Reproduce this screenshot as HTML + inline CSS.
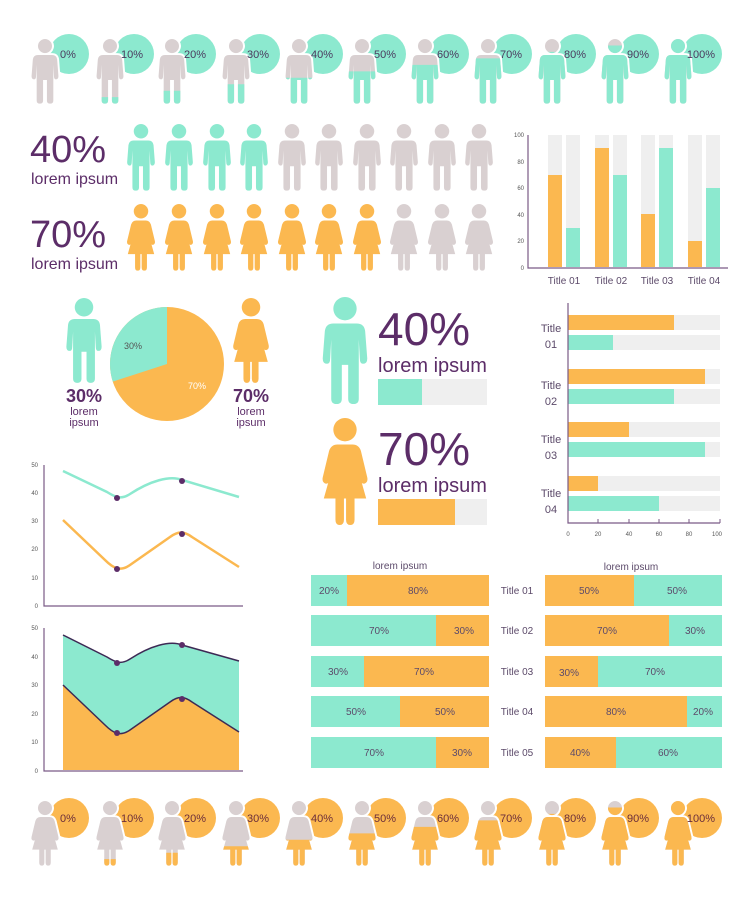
<!DOCTYPE html>
<html><head><meta charset="utf-8">
<style>
html,body{margin:0;padding:0;background:#fff;}
svg{display:block;}
text{font-family:"Liberation Sans",sans-serif;}
</style></head>
<body>
<svg id="s" width="754" height="900" viewBox="0 0 754 900" xmlns="http://www.w3.org/2000/svg">
<defs>
<path id="male" d="M9 25 H31 Q38 25 39 32 L41 58 Q41 63 37 63 Q34 63 34 58 L33 40 V96 Q33 101 28 101 Q23 101 23 96 V64 H17 V96 Q17 101 12 101 Q7 101 7 96 V40 L6 58 Q6 63 3 63 Q-1 63 -1 58 L1 32 Q2 25 9 25Z M20 0 A11 11 0 1 1 19.99 0Z"/>
<path id="female" d="M13 25 H27 Q33 25 35 31 L41 56 Q42 61 38 62 Q35 62 34 58 L31 44 L40 76 H29 V96 Q29 101 25 101 Q21 101 21 96 V76 H19 V96 Q19 101 15 101 Q11 101 11 96 V76 H0 L9 44 L6 58 Q5 62 2 62 Q-2 61 -1 56 L5 31 Q7 25 13 25Z M20 0 A11 11 0 1 1 19.99 0Z"/>
</defs>
<g id="figs"></g>

<g font-size="11" fill="#4a3a5e" text-anchor="middle">
<text x="68" y="58">0%</text><text x="132" y="58">10%</text><text x="195" y="58">20%</text><text x="258" y="58">30%</text><text x="322" y="58">40%</text><text x="385" y="58">50%</text><text x="448" y="58">60%</text><text x="511" y="58">70%</text><text x="575" y="58">80%</text><text x="638" y="58">90%</text><text x="701" y="58">100%</text>
</g>
<g font-size="11" fill="#6b2d3a" text-anchor="middle">
<text x="68" y="822">0%</text><text x="132" y="822">10%</text><text x="195" y="822">20%</text><text x="258" y="822">30%</text><text x="322" y="822">40%</text><text x="385" y="822">50%</text><text x="448" y="822">60%</text><text x="511" y="822">70%</text><text x="575" y="822">80%</text><text x="638" y="822">90%</text><text x="701" y="822">100%</text>
</g>

<g fill="#5c2d68">
<text x="30" y="162" font-size="38">40%</text>
<text x="31" y="184" font-size="16">lorem ipsum</text>
<text x="30" y="247" font-size="38">70%</text>
<text x="31" y="269" font-size="16">lorem ipsum</text>
</g>

<g>
<g fill="#efefef">
<rect x="548" y="135" width="14" height="132"/><rect x="566" y="135" width="14" height="132"/>
<rect x="595" y="135" width="14" height="132"/><rect x="613" y="135" width="14" height="132"/>
<rect x="641" y="135" width="14" height="132"/><rect x="659" y="135" width="14" height="132"/>
<rect x="688" y="135" width="14" height="132"/><rect x="706" y="135" width="14" height="132"/>
</g>
<rect x="548" y="175" width="14" height="92" fill="#fbb850"/>
<rect x="566" y="228" width="14" height="39" fill="#8ce9cf"/>
<rect x="595" y="148" width="14" height="119" fill="#fbb850"/>
<rect x="613" y="175" width="14" height="92" fill="#8ce9cf"/>
<rect x="641" y="214" width="14" height="53" fill="#fbb850"/>
<rect x="659" y="148" width="14" height="119" fill="#8ce9cf"/>
<rect x="688" y="241" width="14" height="26" fill="#fbb850"/>
<rect x="706" y="188" width="14" height="79" fill="#8ce9cf"/>
<path d="M528 135 V268 H728" stroke="#7a5a86" stroke-width="1.2" fill="none"/>
<g font-size="6" fill="#555" text-anchor="end">
<text x="524" y="137">100</text><text x="524" y="164">80</text><text x="524" y="190">60</text><text x="524" y="217">40</text><text x="524" y="243">20</text><text x="524" y="270">0</text>
</g>
<g font-size="10" fill="#5c4a6a" text-anchor="middle">
<text x="564" y="284">Title 01</text><text x="611" y="284">Title 02</text><text x="657" y="284">Title 03</text><text x="704" y="284">Title 04</text>
</g>
</g>

<circle cx="167" cy="364" r="57" fill="#fbb850"/>
<path d="M167 364 V307 A57 57 0 0 0 112.8 381.6 Z" fill="#8ce9cf"/>
<text x="133" y="349" font-size="9" fill="#555" text-anchor="middle">30%</text>
<text x="197" y="389" font-size="9" fill="#fff" text-anchor="middle">70%</text>
<g fill="#5c2d68" text-anchor="middle">
<text x="84" y="402" font-size="18" font-weight="bold">30%</text>
<text x="84" y="415" font-size="11">lorem</text><text x="84" y="426" font-size="11">ipsum</text>
<text x="251" y="402" font-size="18" font-weight="bold">70%</text>
<text x="251" y="415" font-size="11">lorem</text><text x="251" y="426" font-size="11">ipsum</text>
</g>

<g fill="#5c2d68">
<text x="378" y="345" font-size="46">40%</text>
<text x="378" y="372" font-size="20">lorem ipsum</text>
<text x="378" y="465" font-size="46">70%</text>
<text x="378" y="492" font-size="20">lorem ipsum</text>
</g>
<rect x="378" y="379" width="109" height="26" fill="#efefef"/><rect x="378" y="379" width="44" height="26" fill="#8ce9cf"/>
<rect x="378" y="499" width="109" height="26" fill="#efefef"/><rect x="378" y="499" width="77" height="26" fill="#fbb850"/>

<g>
<g fill="#efefef">
<rect x="568" y="315" width="152" height="15"/><rect x="568" y="335" width="152" height="15"/>
<rect x="568" y="369" width="152" height="15"/><rect x="568" y="389" width="152" height="15"/>
<rect x="568" y="422" width="152" height="15"/><rect x="568" y="442" width="152" height="15"/>
<rect x="568" y="476" width="152" height="15"/><rect x="568" y="496" width="152" height="15"/>
</g>
<rect x="568" y="315" width="106" height="15" fill="#fbb850"/>
<rect x="568" y="335" width="45" height="15" fill="#8ce9cf"/>
<rect x="568" y="369" width="137" height="15" fill="#fbb850"/>
<rect x="568" y="389" width="106" height="15" fill="#8ce9cf"/>
<rect x="568" y="422" width="61" height="15" fill="#fbb850"/>
<rect x="568" y="442" width="137" height="15" fill="#8ce9cf"/>
<rect x="568" y="476" width="30" height="15" fill="#fbb850"/>
<rect x="568" y="496" width="91" height="15" fill="#8ce9cf"/>
<path d="M568 303 V523 H720" stroke="#7a5a86" stroke-width="1.2" fill="none"/>
<g stroke="#7a5a86"><path d="M598 519V523M629 519V523M659 519V523M689 519V523M720 519V523"/></g>
<g font-size="6" fill="#555" text-anchor="middle">
<text x="568" y="536">0</text><text x="598" y="536">20</text><text x="629" y="536">40</text><text x="659" y="536">60</text><text x="689" y="536">80</text><text x="717" y="536">100</text>
</g>
<g font-size="11" fill="#5c4a6a" text-anchor="middle">
<text x="551" y="332">Title</text><text x="551" y="348">01</text>
<text x="551" y="389">Title</text><text x="551" y="405">02</text>
<text x="551" y="443">Title</text><text x="551" y="459">03</text>
<text x="551" y="497">Title</text><text x="551" y="513">04</text>
</g>
</g>

<g>
<path d="M44 465 V606 H243" stroke="#7a5a86" stroke-width="1.2" fill="none"/>
<g font-size="6" fill="#555" text-anchor="end">
<text x="38" y="467">50</text><text x="38" y="495">40</text><text x="38" y="523">30</text><text x="38" y="551">20</text><text x="38" y="580">10</text><text x="38" y="608">0</text>
</g>
<path d="M63 471 L107 492 C115 497 121 500 130 494 C150 481 170 475 182 480 L239 497" stroke="#8ce9cf" stroke-width="2.5" fill="none"/>
<path d="M63 520 L105 560 C113 568 120 572 130 565 L170 537 C178 531 184 531 192 537 L239 567" stroke="#fbb850" stroke-width="2.5" fill="none"/>
<g fill="#5c2d68"><circle cx="117" cy="498" r="3"/><circle cx="182" cy="481" r="3"/><circle cx="117" cy="569" r="3"/><circle cx="182" cy="534" r="3"/></g>
</g>

<g>
<path d="M63 770 V635 L107 657 C115 662 121 665 130 659 C150 646 170 640 182 645 L239 661 V770Z" fill="#8ce9cf"/>
<path d="M63 770 V685 L105 725 C113 733 120 737 130 730 L170 702 C178 696 184 696 192 702 L239 732 V770Z" fill="#fbb850"/>
<path d="M63 635 L107 657 C115 662 121 665 130 659 C150 646 170 640 182 645 L239 661" stroke="#3d2a55" stroke-width="1.5" fill="none"/>
<path d="M63 685 L105 725 C113 733 120 737 130 730 L170 702 C178 696 184 696 192 702 L239 732" stroke="#3d2a55" stroke-width="1.5" fill="none"/>
<g fill="#5c2d68"><circle cx="117" cy="663" r="3"/><circle cx="182" cy="645" r="3"/><circle cx="117" cy="733" r="3"/><circle cx="182" cy="699" r="3"/></g>
<path d="M44 628 V771 H243" stroke="#7a5a86" stroke-width="1.2" fill="none"/>
<g font-size="6" fill="#555" text-anchor="end">
<text x="38" y="630">50</text><text x="38" y="659">40</text><text x="38" y="687">30</text><text x="38" y="716">20</text><text x="38" y="744">10</text><text x="38" y="773">0</text>
</g>
</g>

<g font-size="10" fill="#5c4a6a" text-anchor="middle">
<text x="400" y="569">lorem ipsum</text><text x="631" y="570">lorem ipsum</text>
<text x="517" y="594">Title 01</text><text x="517" y="634">Title 02</text><text x="517" y="675">Title 03</text><text x="517" y="715">Title 04</text><text x="517" y="756">Title 05</text>
</g>
<g>
<rect x="311" y="575" width="178" height="31" fill="#fbb850"/><rect x="311" y="575" width="36" height="31" fill="#8ce9cf"/>
<rect x="311" y="615" width="178" height="31" fill="#fbb850"/><rect x="311" y="615" width="125" height="31" fill="#8ce9cf"/>
<rect x="311" y="656" width="178" height="31" fill="#fbb850"/><rect x="311" y="656" width="53" height="31" fill="#8ce9cf"/>
<rect x="311" y="696" width="178" height="31" fill="#fbb850"/><rect x="311" y="696" width="89" height="31" fill="#8ce9cf"/>
<rect x="311" y="737" width="178" height="31" fill="#fbb850"/><rect x="311" y="737" width="125" height="31" fill="#8ce9cf"/>
<rect x="545" y="575" width="177" height="31" fill="#8ce9cf"/><rect x="545" y="575" width="89" height="31" fill="#fbb850"/>
<rect x="545" y="615" width="177" height="31" fill="#8ce9cf"/><rect x="545" y="615" width="124" height="31" fill="#fbb850"/>
<rect x="545" y="656" width="177" height="31" fill="#8ce9cf"/><rect x="545" y="656" width="53" height="31" fill="#fbb850"/>
<rect x="545" y="696" width="177" height="31" fill="#8ce9cf"/><rect x="545" y="696" width="142" height="31" fill="#fbb850"/>
<rect x="545" y="737" width="177" height="31" fill="#8ce9cf"/><rect x="545" y="737" width="71" height="31" fill="#fbb850"/>
</g>
<g font-size="10" fill="#5c4a6a" text-anchor="middle">
<text x="329" y="594">20%</text><text x="418" y="594">80%</text>
<text x="379" y="634">70%</text><text x="464" y="634">30%</text>
<text x="338" y="675">30%</text><text x="424" y="675">70%</text>
<text x="356" y="715">50%</text><text x="445" y="715">50%</text>
<text x="374" y="756">70%</text><text x="462" y="756">30%</text>
<text x="589" y="594">50%</text><text x="677" y="594">50%</text>
<text x="607" y="634">70%</text><text x="695" y="634">30%</text>
<text x="569" y="676">30%</text><text x="655" y="675">70%</text>
<text x="616" y="715">80%</text><text x="703" y="715">20%</text>
<text x="580" y="756">40%</text><text x="668" y="756">60%</text>
</g>
</svg>
<script>
(function(){
var NS="http://www.w3.org/2000/svg",g=document.getElementById("figs"),defs=document.querySelector("defs"),cid=0;
var T="#8ce9cf",O="#fbb850",G="#d9d0d1";
function el(n,a,p){var e=document.createElementNS(NS,n);for(var k in a)e.setAttribute(k,a[k]);(p||g).appendChild(e);return e;}
function fig(type,cx,top,sc,base,fillc,frac,stroke){
  var tr="translate("+(cx-20*sc)+","+top+") scale("+sc+")";
  if(stroke) el("use",{href:"#"+type,transform:tr,fill:"#fff",stroke:"#fff","stroke-width":6,"stroke-linejoin":"round"});
  el("use",{href:"#"+type,transform:tr,fill:base});
  if(frac>0){
    var id="c"+(cid++);var cp=el("clipPath",{id:id},defs);
    el("rect",{x:-5,y:101-101*frac,width:50,height:110},cp);
    el("use",{href:"#"+type,transform:tr,fill:fillc,"clip-path":"url(#"+id+")"});
  }
}
var xs=[45,110,172,236,299,362,425,488,552,615,678];
for(var i=0;i<11;i++){
  el("circle",{cx:xs[i]+24,cy:54,r:20,fill:T});
  fig("male",xs[i],39,0.64,G,T,i/10,true);
  el("circle",{cx:xs[i]+24,cy:818,r:20,fill:O});
  fig("female",xs[i],801,0.64,G,O,i/10,true);
}
var rx=[141,179,217,254,292,329,367,404,442,479];
for(var j=0;j<10;j++){
  fig("male",rx[j],124,0.66,j<4?T:G,null,0,false);
  fig("female",rx[j],204,0.66,j<7?O:G,null,0,false);
}
fig("male",84,298,0.84,T,null,0,false);
fig("female",251,298,0.84,O,null,0,false);
fig("male",345,297,1.06,T,null,0,false);
fig("female",345,418,1.06,O,null,0,false);
})();
</script>
</body></html>
